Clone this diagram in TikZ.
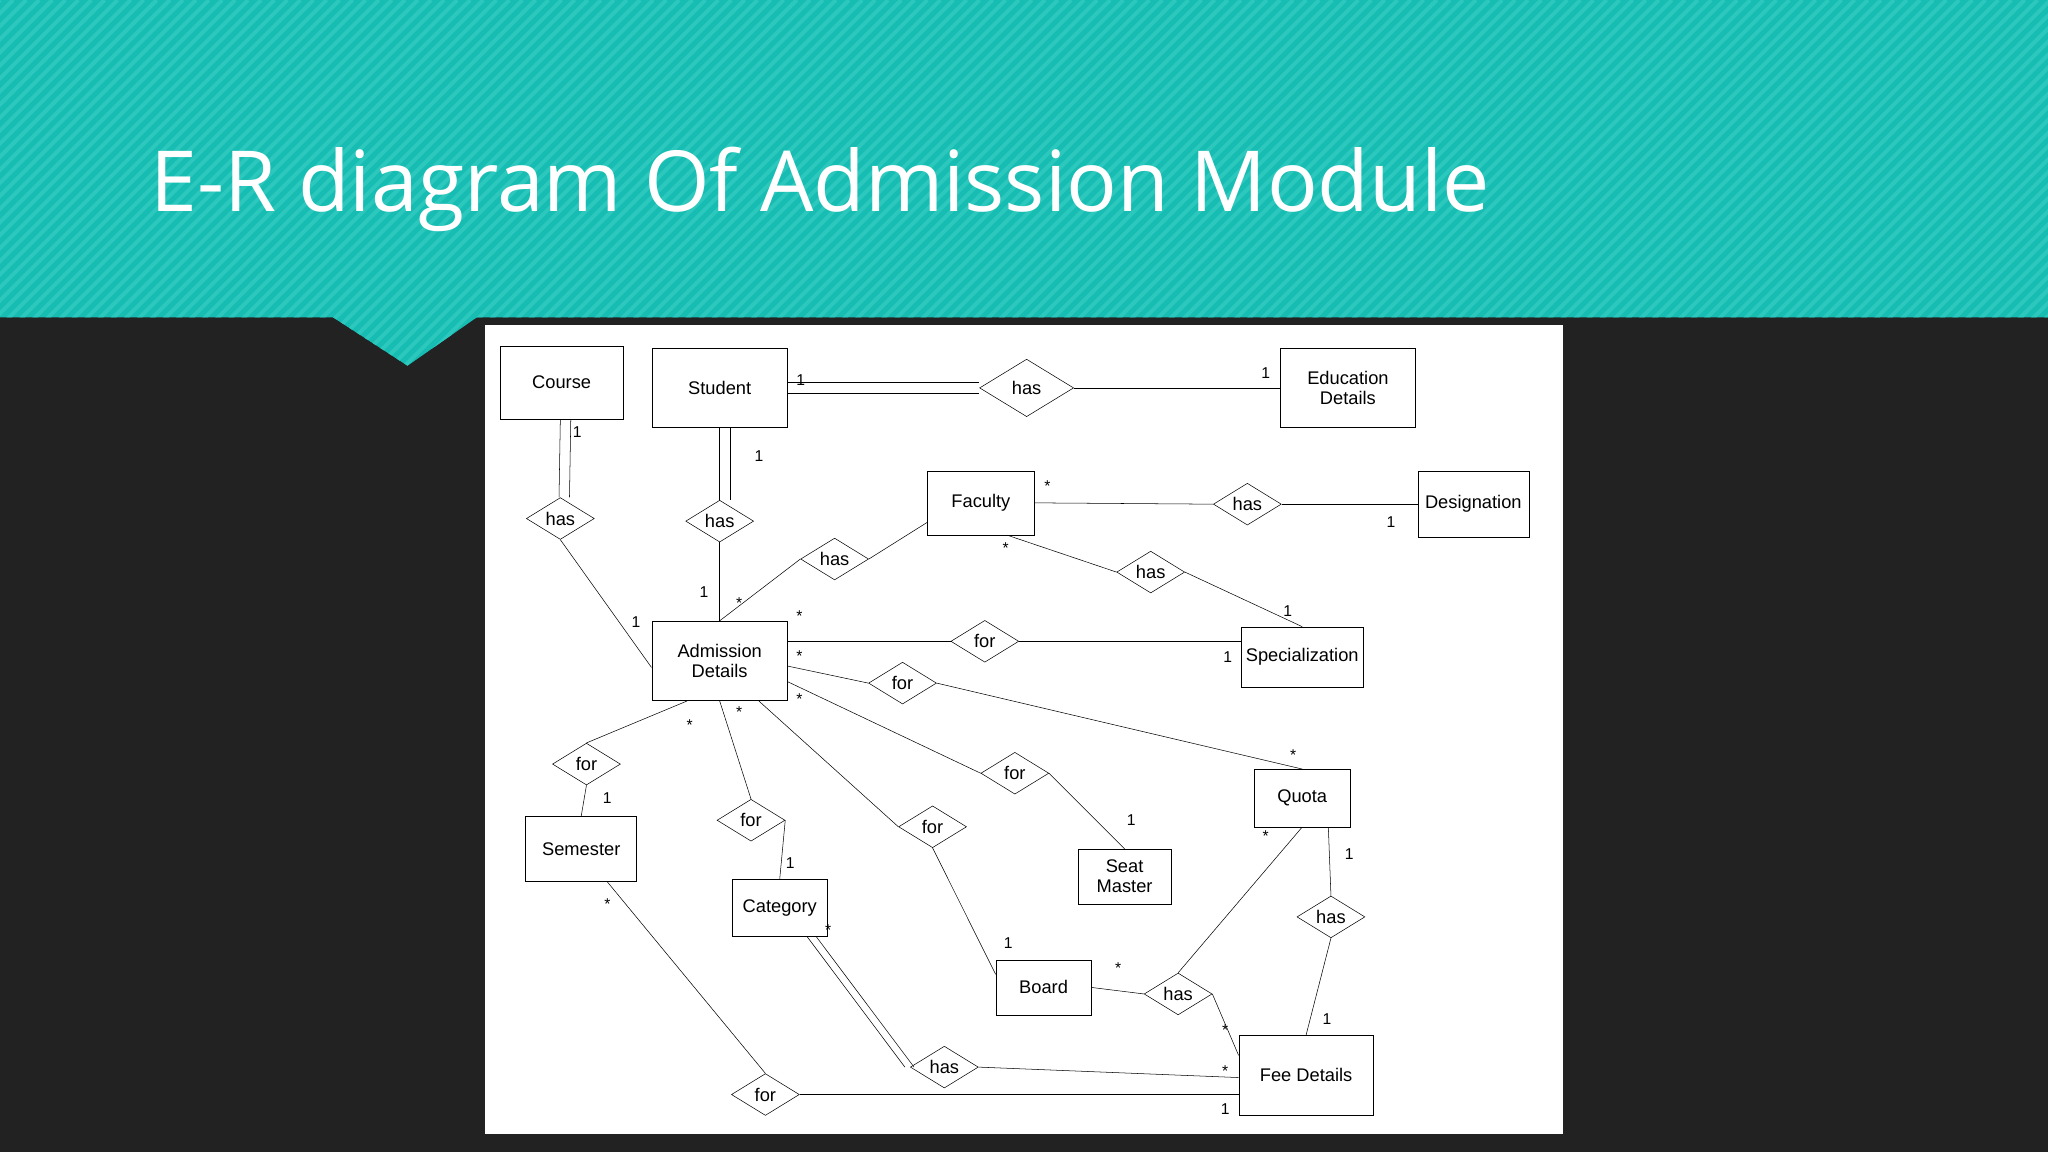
\documentclass[tikz,border=0pt]{standalone}
\usepackage{fontspec}
\setmainfont{Liberation Sans}
\newfontfamily\titlefont{Open Sans}
\usetikzlibrary{shapes.geometric}
\definecolor{teal1}{HTML}{17BDB2}
\definecolor{teal2}{HTML}{2CC8BD}
\definecolor{darkbg}{HTML}{222222}
\begin{document}
\begin{tikzpicture}[x=1pt,y=-1pt,
  ent/.style={draw,fill=white,thin,align=center,inner sep=1pt,font=\fontsize{14}{15}\selectfont},
  rel/.style={draw,fill=white,thin,diamond,aspect=1.6,minimum height=32pt,minimum width=52pt,inner sep=0pt,font=\fontsize{14}{15}\selectfont},
  lab/.style={font=\fontsize{12}{12}\selectfont,inner sep=0pt},
  con/.style={thin}]
\useasboundingbox (0,0) rectangle (1568,882);
\fill[darkbg] (0,0) rectangle (1568,882);
\fill[teal1] (0,0) -- (1568,0) -- (1568,243) -- (365,243) -- (312,280) -- (255,243) -- (0,243) -- cycle;
\begin{scope}
\clip (0,0) -- (1568,0) -- (1568,243) -- (365,243) -- (312,280) -- (255,243) -- (0,243) -- cycle;
\foreach \i in {-300,-290,...,1900} \draw[teal2,line width=3pt] (\i,0) -- (\i-290,290);
\end{scope}
\node[anchor=base west,inner sep=0pt,text=white,font=\titlefont\fontsize{64.5}{66}\selectfont] (title) at (115,162) {E-R diagram Of Admission Module};
\fill[white] (371,249) rectangle (1197,868);
% entities
\node[ent,minimum width=94pt,minimum height=56pt] (course) at (430,293) {Course};
\node[ent,minimum width=104pt,minimum height=60pt] (student) at (551,297) {Student};
\node[ent,minimum width=103pt,minimum height=60pt] (edu) at (1032,297) {Education\\Details};
\node[ent,minimum width=82pt,minimum height=49pt] (faculty) at (751,385) {Faculty};
\node[ent,minimum width=85pt,minimum height=50pt] (desig) at (1128,386) {Designation};
\node[ent,minimum width=104pt,minimum height=61pt] (adm) at (551,506) {Admission\\Details};
\node[ent,minimum width=93pt,minimum height=46pt] (spec) at (997,503) {Specialization};
\node[ent,minimum width=74pt,minimum height=44pt] (quota) at (997,611) {Quota};
\node[ent,minimum width=85pt,minimum height=50pt] (sem) at (445,650) {Semester};
\node[ent,minimum width=73pt,minimum height=44pt] (cat) at (597,695) {Category};
\node[ent,minimum width=71pt,minimum height=42pt] (seat) at (861,671) {Seat\\Master};
\node[ent,minimum width=73pt,minimum height=42pt] (board) at (799,756) {Board};
\node[ent,minimum width=103pt,minimum height=61pt] (fee) at (1000,823) {Fee Details};
% relationships
\node[rel,minimum width=72pt,minimum height=44pt] (r1) at (786,297) {has};
\node[rel] (r2) at (429,397) {has};
\node[rel] (r3) at (551,399) {has};
\node[rel] (r4) at (639,428) {has};
\node[rel] (r5) at (955,386) {has};
\node[rel] (r6) at (881,438) {has};
\node[rel] (r7) at (754,491) {for};
\node[rel] (r8) at (691,523) {for};
\node[rel] (r9) at (449,585) {for};
\node[rel] (r10) at (777,592) {for};
\node[rel] (r11) at (575,628) {for};
\node[rel] (r12) at (714,633) {for};
\node[rel] (r13) at (1019,702) {has};
\node[rel] (r14) at (902,761) {has};
\node[rel] (r15) at (723,817) {has};
\node[rel] (r16) at (586,838) {for};
% connectors
\draw[con] ([yshift=4pt]student.east) -- ([yshift=4pt]r1.west);
\draw[con] ([yshift=-4pt]student.east) -- ([yshift=-4pt]r1.west);
\draw[con] (r1.east) -- (edu.west);
\draw[con] ([xshift=-1pt]course.south) -- ([xshift=-1pt]r2.north);
\draw[con] ([xshift=7pt]course.south) -- ([xshift=7pt]r2.north);
\draw[con] (r2.south) -- ([yshift=-5pt]adm.west);
\draw[con] (student.south) -- (r3.north);
\draw[con] ([xshift=8pt]student.south) -- ([xshift=8pt]r3.north);
\draw[con] (r3.south) -- (adm.north);
\draw[con] (adm.north) -- (r4.west);
\draw[con] (r4.east) -- ([yshift=-15pt]faculty.west);
\draw[con] (faculty.east) -- (r5.west);
\draw[con] (r5.east) -- (desig.west);
\draw[con] ([xshift=20pt]faculty.south) -- (r6.west);
\draw[con] (r6.east) -- (spec.north);
\draw[con] ([yshift=15pt]adm.east) -- (r7.west);
\draw[con] (r7.east) -- ([yshift=12pt]spec.west);
\draw[con] ([yshift=-4pt]adm.east) -- (r8.west);
\draw[con] (r8.east) -- (quota.north);
\draw[con] ([yshift=-16pt]adm.east) -- (r10.west);
\draw[con] (r10.east) -- (seat.north);
\draw[con] ([xshift=30pt]adm.south) -- (r12.west);
\draw[con] (r12.south) -- ([yshift=10pt]board.west);
\draw[con] (adm.south) -- (r11.north);
\draw[con] (r11.east) -- (cat.north);
\draw[con] ([xshift=-25pt]adm.south) -- (r9.north);
\draw[con] (r9.south) -- (sem.north);
\draw[con] ([xshift=20pt]sem.south) -- (r16.north);
\draw[con] (r16.east) -- ([yshift=-15pt]fee.west);
\draw[con] ([xshift=21pt]cat.south) -- ([xshift=-4pt]r15.west);
\draw[con] ([xshift=28pt]cat.south) -- ([xshift=3pt]r15.west);
\draw[con] (r15.east) -- ([yshift=-2pt]fee.west);
\draw[con] (board.east) -- (r14.west);
\draw[con] (r14.east) -- ([yshift=15pt]fee.west);
\draw[con] (quota.south) -- (r14.north);
\draw[con] ([xshift=20pt]quota.south) -- (r13.north);
\draw[con] (r13.south) -- (fee.north);
% labels
\node[lab] (l1) at (613,291) {1};
\node[lab] (l2) at (969,286) {1};
\node[lab] (l3) at (442,331) {1};
\node[lab] (l4) at (487,476) {1};
\node[lab] (l5) at (581,349) {1};
\node[lab] (l6) at (539,453) {1};
\node[lab] (l7) at (566,462) {*};
\node[lab] (l8) at (802,372) {*};
\node[lab] (l9) at (770,420) {*};
\node[lab] (l10) at (1065,400) {1};
\node[lab] (l11) at (986,468) {1};
\node[lab] (l12) at (612,472) {*};
\node[lab] (l13) at (940,503) {1};
\node[lab] (l14) at (612,502) {*};
\node[lab] (l15) at (990,578) {*};
\node[lab] (l16) at (612,535) {*};
\node[lab] (l17) at (866,628) {1};
\node[lab] (l18) at (772,722) {1};
\node[lab] (l19) at (566,545) {*};
\node[lab] (l20) at (605,661) {1};
\node[lab] (l21) at (528,555) {*};
\node[lab] (l22) at (465,611) {1};
\node[lab] (l23) at (465,692) {*};
\node[lab] (l24) at (938,849) {1};
\node[lab] (l25) at (938,820) {*};
\node[lab] (l26) at (634,712) {*};
\node[lab] (l27) at (856,741) {*};
\node[lab] (l28) at (938,789) {*};
\node[lab] (l29) at (969,640) {*};
\node[lab] (l30) at (1033,654) {1};
\node[lab] (l31) at (1016,780) {1};
\end{tikzpicture}
\end{document}
